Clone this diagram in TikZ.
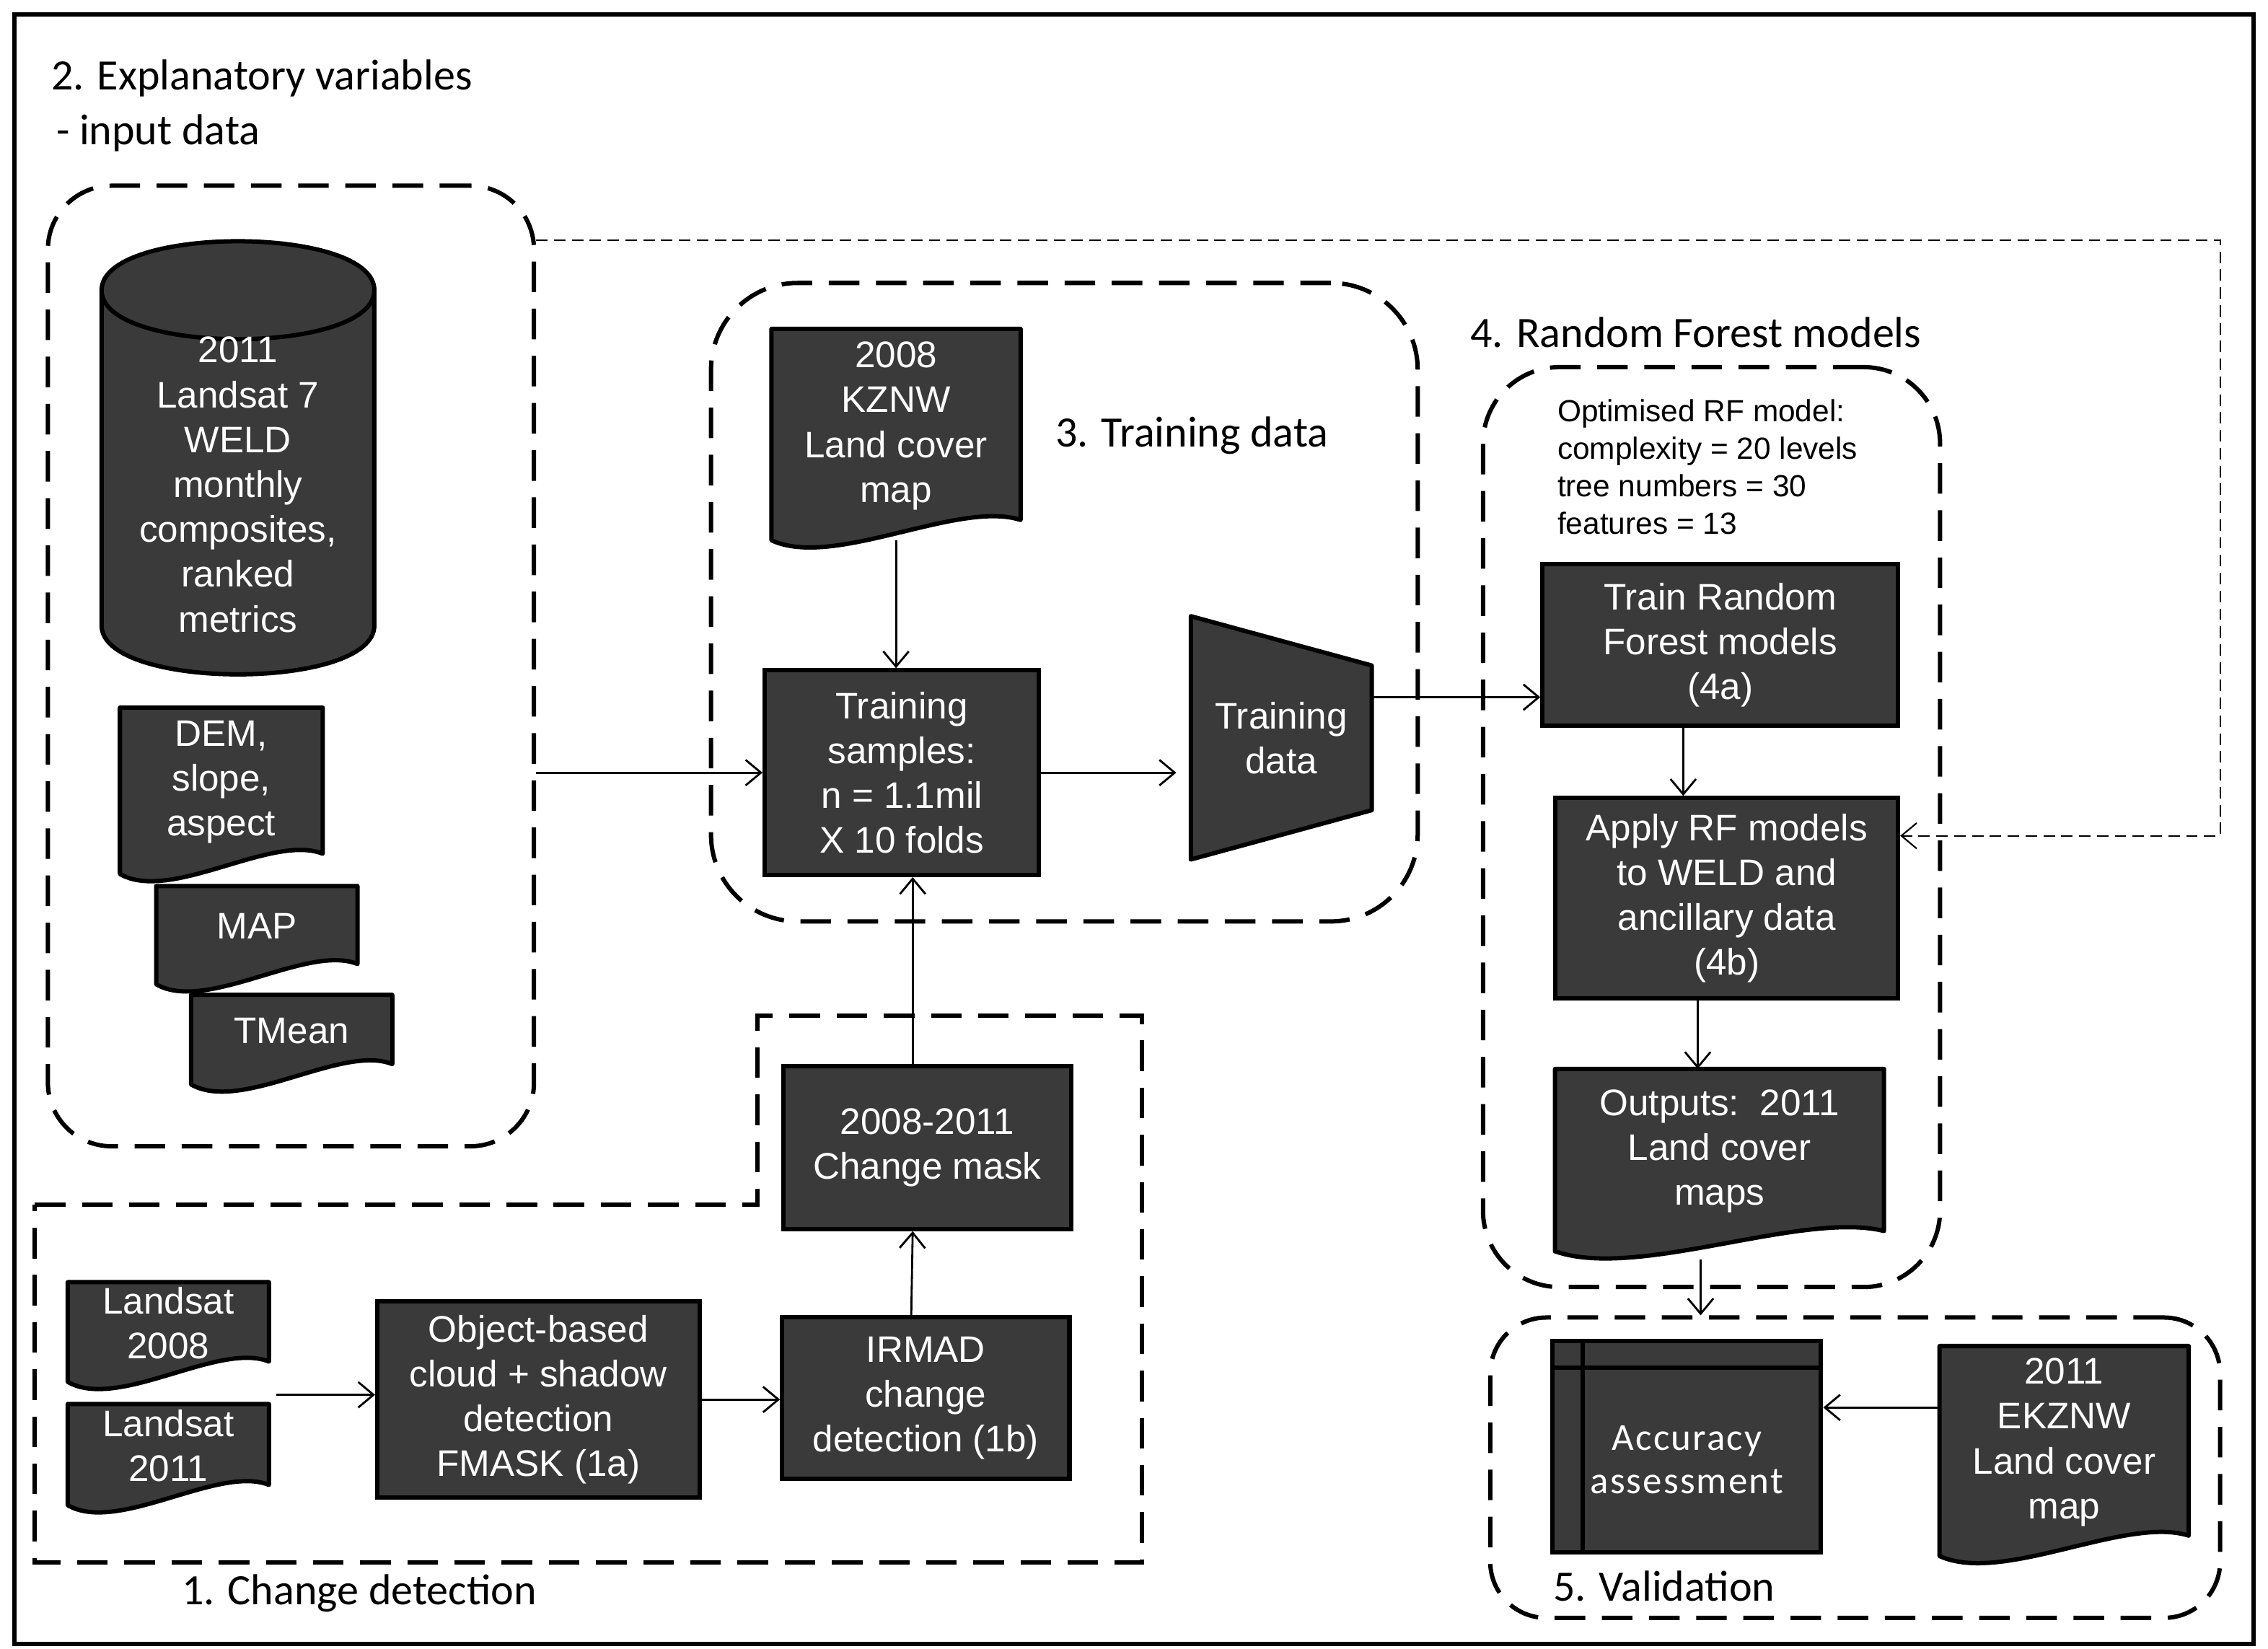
\documentclass[tikz,border=0pt]{standalone}
\usepackage{fontspec}
\setmainfont{Liberation Sans}
\newfontfamily\calfont{Carlito}
\newfontfamily\accfont[LetterSpace=4]{Carlito}
\usetikzlibrary{arrows.meta,calc,fit,backgrounds,positioning}
\definecolor{darkfill}{RGB}{58,58,58}

\begin{document}
\begin{tikzpicture}[x=0.02cm,y=-0.02cm,
  >={Straight Barb[length=6pt,width=10pt]},
  size/.style 2 args={minimum width={#1*0.02cm},minimum height={#2*0.02cm}},
  box/.style={draw=black,fill=darkfill,line width=1.7pt,inner sep=0pt,text=white,align=center,font=\fontsize{14.5}{17.6}\selectfont},
  doc/.style={inner sep=0pt,text=white,align=center,font=\fontsize{14.5}{17.6}\selectfont},
  shapeline/.style={draw=black,fill=darkfill,line width=1.7pt,line join=round},
  group/.style={draw=black,line width=1.7pt,dash pattern=on 12pt off 6.5pt,inner sep=0pt},
  title/.style={inner sep=0pt,anchor=west,align=left,font=\calfont\fontsize{17}{21.5}\selectfont},
  flow/.style={->,line width=0.8pt},
  feedback/.style={->,line width=0.6pt,dash pattern=on 4.5pt off 2.5pt}]

       \useasboundingbox (0,0) rectangle (1563,1136);
       \draw[line width=1.7pt] (10,10) rectangle (1553,1133);

       % titles
       \node[title] (t2) at (35,73) {2. Explanatory variables\\\hspace{2pt}- input data};
       \node[title] (t3) at (727,300) {3. Training data};
       \node[title] (t4) at (1013,229) {4. Random Forest models};
       \node[title] (t1) at (125,1098) {1. Change detection};
       \node[title] (t5) at (1070,1093) {5. Validation};

       % 2. explanatory variables
       \node[group,rounded corners=25pt,fit={(33,128) (368,790)}] (g2) {};
       \node[doc] (weld) at (164,334) {2011\\Landsat 7\\WELD\\monthly\\composites,\\ranked\\metrics};
       \node[doc,size={139}{102}] (dem) at (152.5,539) {DEM,\\slope,\\aspect};
       \node[doc,size={138}{55}] (map) at (177,638.5) {MAP};
       \node[doc,size={138}{49}] (tmean) at (201,710.5) {TMean};

       % 3. training data
       \node[group,rounded corners=34pt,fit={(490,195) (977,635)}] (g3) {};
       \node[doc,size={171}{133}] (kz) at (617.5,293.5) {2008\\KZNW\\Land cover\\map};
       \node[box,size={189}{141}] (ts) at (621.5,532.5) {Training\\samples:\\n = 1.1mil\\X 10 folds};
       \node[doc,size={124}{167}] (tdata) at (883,508.5) {Training\\data};

       % 1. change detection
       \draw[line width=1.7pt,dash pattern=on 12pt off 6.5pt] (24,830) -- (522,830) -- (522,700) -- (787,700) -- (787,1077) -- (24,1077) -- cycle;
       \node[box,size={198}{112}] (cm) at (639,791) {2008-2011\\Change mask};
       \node[doc,size={138}{56}] (ls08) at (116,912) {Landsat\\2008};
       \node[doc,size={138}{57}] (ls11) at (116,996.5) {Landsat\\2011};
       \node[box,size={222}{135}] (ob) at (371,964.5) {Object-based\\cloud + shadow\\detection\\FMASK (1a)};
       \node[box,size={198}{111}] (irmad) at (638,963.5) {IRMAD\\change\\detection (1b)};

       % 4. random forest models
       \node[group,rounded corners=30pt,fit={(1022,253) (1337,887)}] (g4) {};
       \node[inner sep=0pt,anchor=west,align=left,font=\fontsize{12}{14.7}\selectfont] (opt) at (1073,322) {Optimised RF model:\\complexity = 20 levels\\tree numbers = 30\\features = 13};
       \node[box,size={245}{111}] (rf) at (1185.5,444.5) {Train Random\\Forest models\\(4a)};
       \node[box,size={236}{138}] (ap) at (1190,619) {Apply RF models\\to WELD and\\ancillary data\\(4b)};
       \node[doc,size={226}{113}] (out) at (1185,793.5) {Outputs:\ \ 2011\\Land cover\\maps};

       % 5. validation
       \node[group,rounded corners=22pt,fit={(1027,908) (1530,1115)}] (g5) {};
       \node[box,size={185}{146},font=\accfont\fontsize{15}{17}\selectfont] (acc) at (1162.5,997) {\rule{0pt}{20pt}Accuracy\\assessment};
       \node[doc,size={171}{132}] (ek) at (1422.5,994) {2011\\EKZNW\\Land cover\\map};
       \draw[line width=1.7pt] ($(acc.north west)+(0,20)$) -- ($(acc.north east)+(0,20)$);
       \draw[line width=1.7pt] ($(acc.north west)+(22,0)$) -- ($(acc.south west)+(22,0)$);

       % shapes under the texts
       \begin{scope}[on background layer]
         \filldraw[shapeline] (70,200) -- (70,431) .. controls (70,476) and (258,476) .. (258,431) -- (258,200) .. controls (258,155) and (70,155) .. (70,200) -- cycle;
         \draw[line width=1.7pt] (70,200) .. controls (70,245) and (258,245) .. (258,200);
         \foreach \d in {dem,map,tmean,kz,ls08,ls11,out,ek}
           \filldraw[shapeline] (\d.north west) -- (\d.north east) -- ($(\d.south east)+(0,-2)$)
             .. controls ($(\d.south east)!0.5!(\d.south)+(0,-16)$) and ($(\d.south west)!0.5!(\d.south)+(0,32)$) .. ($(\d.south west)+(0,12)$) -- cycle;
         \filldraw[shapeline] (tdata.north west) -- ($(tdata.north east)+(0,34)$) -- ($(tdata.south east)+(0,-34)$) -- (tdata.south west) -- cycle;
       \end{scope}

       % connectors
       \draw[flow] (g2.east |- ts.west) -- (ts.west);
       \draw[flow] ($(kz.south)+(0,12)$) -- (kz.south |- ts.north);
       \draw[flow] (ts.east) -- ($(ts.east -| tdata.west)+(-10,0)$);
       \coordinate (tdout) at ($(tdata.east)+(0,-28)$);
       \draw[flow] (tdout) -- (tdout -| rf.west);
       \coordinate (lsmid) at ($(ls08.east)!0.5!(ls11.east)+(5,7)$);
       \draw[flow] (lsmid) -- (lsmid -| ob.west);
       \draw[flow] (ob.east) -- (ob.east -| irmad.west);
       \draw[flow] ([xshift=-5.7pt]irmad.north) -- ([xshift=-5.7pt]cm.south);
       \coordinate (cmup) at ([xshift=-5.7pt]cm.north);
       \draw[flow] (cmup) -- (cmup |- ts.south);
       \draw[flow] (rf.south -| 1160,0) -- (ap.north -| 1160,0);
       \draw[flow] (ap.south -| 1170,0) -- (out.north -| 1170,0);
       \coordinate (outbot) at (1172,868);
       \draw[flow] (outbot) -- (outbot |- g5.north);
       \coordinate (ekin) at ($(ek.west)+(0,-24)$);
       \draw[flow] (ekin) -- (ekin -| acc.east);
       \coordinate (fbstart) at ($(g2.north east)+(0,39)$);
       \coordinate (fbcorner) at (1530,576);
       \draw[feedback] (fbstart) -- (fbstart -| fbcorner) -- (fbcorner) -- (fbcorner -| ap.east);
     \end{tikzpicture}
\end{document}
